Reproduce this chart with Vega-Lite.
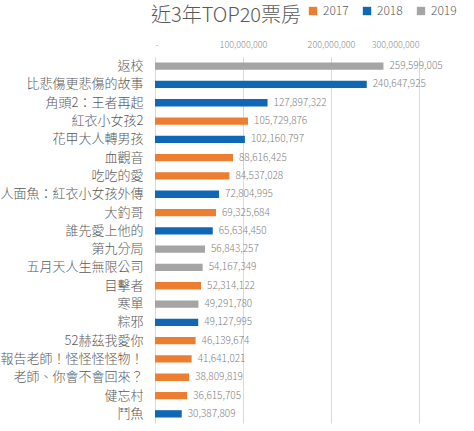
{
  "$schema": "https://vega.github.io/schema/vega-lite/v6.json",
  "width": 264,
  "height": 366,
  "autosize": {"type": "none"},
  "padding": {"left": 155, "top": 57, "right": 55, "bottom": 8},
  "background": "white",
  "config": {
    "font": "Noto Sans CJK TC",
    "view": {"stroke": null}
  },
  "title": {
    "text": "近3年TOP20票房",
    "fontSize": 20,
    "fontWeight": 300,
    "color": "#595959",
    "anchor": "middle",
    "dx": -61,
    "dy": 27,
    "offset": 6
  },
  "data": {
    "values": [
      {"film": "返校", "gross": 259599005, "year": "2019"},
      {"film": "比悲傷更悲傷的故事", "gross": 240647925, "year": "2018"},
      {"film": "角頭2：王者再起", "gross": 127897322, "year": "2018"},
      {"film": "紅衣小女孩2", "gross": 105729876, "year": "2017"},
      {"film": "花甲大人轉男孩", "gross": 102160797, "year": "2018"},
      {"film": "血觀音", "gross": 88616425, "year": "2017"},
      {"film": "吃吃的愛", "gross": 84537028, "year": "2017"},
      {"film": "人面魚：紅衣小女孩外傳", "gross": 72804995, "year": "2018"},
      {"film": "大釣哥", "gross": 69325684, "year": "2017"},
      {"film": "誰先愛上他的", "gross": 65634450, "year": "2018"},
      {"film": "第九分局", "gross": 56843257, "year": "2019"},
      {"film": "五月天人生無限公司", "gross": 54167349, "year": "2019"},
      {"film": "目擊者", "gross": 52314122, "year": "2017"},
      {"film": "寒單", "gross": 49291780, "year": "2019"},
      {"film": "粽邪", "gross": 49127995, "year": "2018"},
      {"film": "52赫茲我愛你", "gross": 46139674, "year": "2017"},
      {"film": "報告老師！怪怪怪怪物！", "gross": 41641021, "year": "2017"},
      {"film": "老師、你會不會回來？", "gross": 38809819, "year": "2017"},
      {"film": "健忘村", "gross": 36615705, "year": "2017"},
      {"film": "鬥魚", "gross": 30387809, "year": "2018"}
    ]
  },
  "encoding": {
    "y": {
      "field": "film",
      "type": "nominal",
      "sort": {"field": "gross", "order": "descending"},
      "title": null,
      "scale": {"paddingInner": 0.6, "paddingOuter": 0.3},
      "axis": {
        "ticks": false,
        "domain": false,
        "labelFontSize": 13,
        "labelFontWeight": 300,
        "labelColor": "#595959",
        "labelPadding": 12,
        "labelLimit": 300
      }
    },
    "x": {
      "field": "gross",
      "type": "quantitative",
      "title": null,
      "scale": {"domain": [0, 300000000], "nice": false},
      "axis": {
        "orient": "top",
        "values": [0, 100000000, 200000000, 300000000],
        "labelExpr": "datum.value === 0 ? '-' : format(datum.value, ',')",
        "ticks": false,
        "domain": false,
        "grid": true,
        "gridColor": "#d9d9d9",
        "labelFontSize": 9,
        "labelFontWeight": 300,
        "labelColor": "#8c8c8c",
        "labelPadding": 8
      }
    }
  },
  "layer": [
    {
      "mark": {"type": "bar"},
      "encoding": {
        "color": {
          "field": "year",
          "type": "nominal",
          "title": null,
          "scale": {
            "domain": ["2017", "2018", "2019"],
            "range": ["#ED7D31", "#0F67B5", "#A5A5A5"]
          },
          "legend": {
            "orient": "none",
            "legendX": 152,
            "legendY": -52,
            "direction": "horizontal",
            "symbolType": "square",
            "symbolSize": 70,
            "symbolStrokeWidth": 0,
            "labelFontSize": 12,
            "labelFontWeight": 300,
            "labelColor": "#595959",
            "columnPadding": 12
          }
        }
      }
    },
    {
      "mark": {"type": "text", "align": "left", "dx": 6, "fontSize": 10, "fontWeight": 300, "color": "#7f7f7f"},
      "encoding": {
        "text": {"field": "gross", "type": "quantitative", "format": ","}
      }
    }
  ]
}
